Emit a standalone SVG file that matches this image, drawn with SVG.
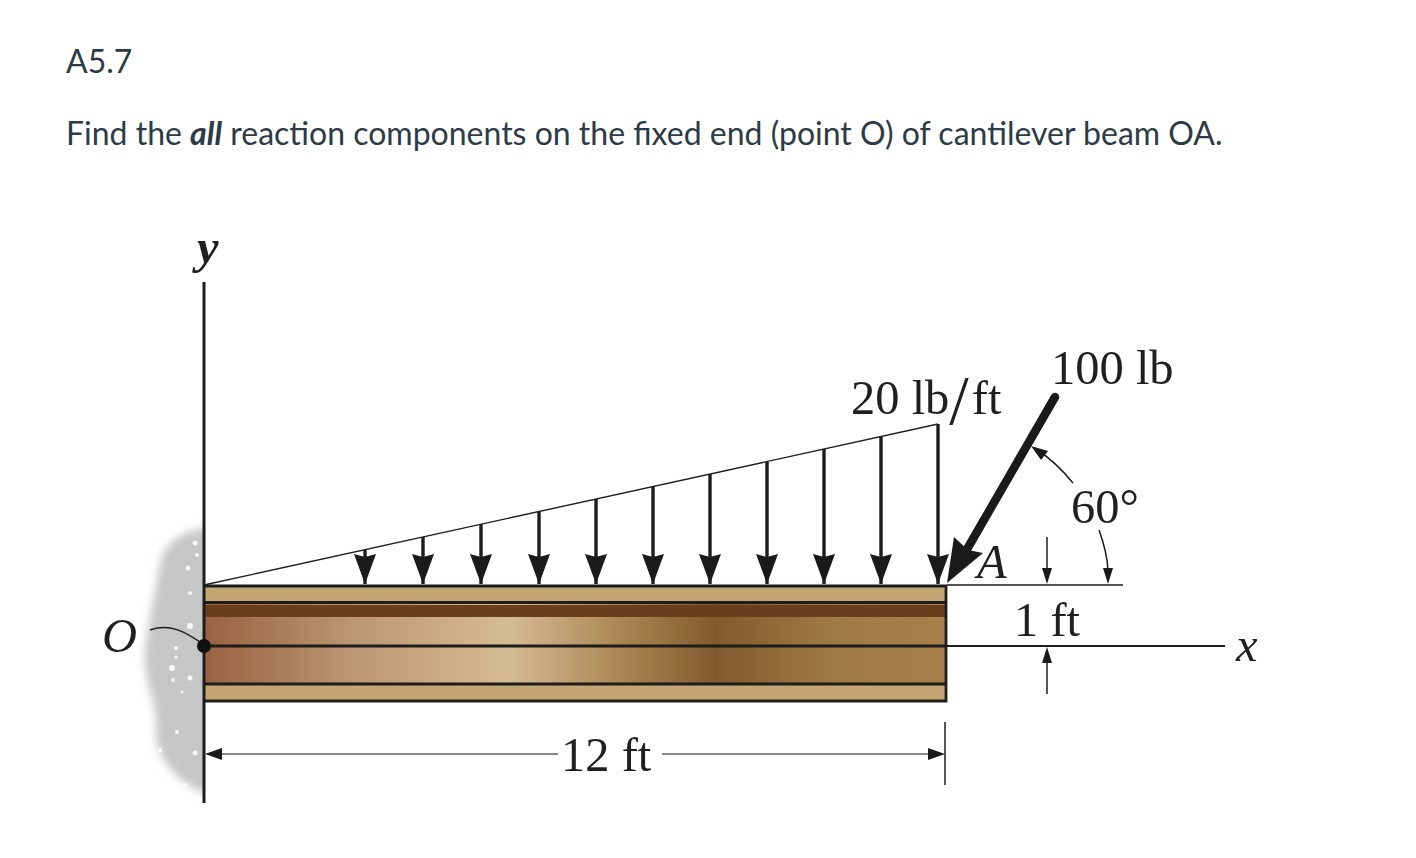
<svg xmlns="http://www.w3.org/2000/svg" width="1416" height="858" viewBox="0 0 1416 858">
<style>
.h{font-family:Lato,"Liberation Sans",sans-serif;font-size:32px;fill:#2d3b45}
.l{font-family:"Liberation Serif",serif;font-size:48.500px;fill:#1f1f1f}
.i{font-style:italic}
.ln{stroke:#1d1d1d;fill:none}
.load{stroke:#1d1d1d;stroke-width:3.400;fill:none;marker-end:url(#big)}
</style>
<defs>
<marker id="big" markerUnits="userSpaceOnUse" markerWidth="32" markerHeight="24" refX="30" refY="12" orient="auto" viewBox="0 0 32 24"><path d="M0 1L30 12L0 23L3 12Z" fill="#1a1a1a"/></marker>
<linearGradient id="wood" gradientUnits="userSpaceOnUse" x1="204" y1="0" x2="946" y2="0">
<stop offset="0" stop-color="#9a6241"/><stop offset=".2" stop-color="#bb9672"/><stop offset=".41" stop-color="#d5bc92"/><stop offset=".55" stop-color="#ae8a58"/><stop offset=".69" stop-color="#835a2c"/><stop offset=".85" stop-color="#a07a45"/><stop offset="1" stop-color="#a87f4b"/>
</linearGradient>
<filter id="soft" x="-20%" y="-5%" width="140%" height="110%"><feGaussianBlur stdDeviation="4"/></filter>
<clipPath id="wallclip"><rect x="0" y="500" width="204" height="320"/></clipPath>
</defs>
<text class="h" x="66" y="73">A5.7</text>
<text class="h" x="66" y="145">Find the <tspan font-weight="700" font-style="italic">all</tspan> reaction components on the fixed end (point O) of cantilever beam OA.</text>
<g id="wall">
<g clip-path="url(#wallclip)"><path d="M230 526C195 526 168 535 161 560C156 585 150 615 145 650C142 680 158 700 156 730C155 760 180 790 230 802Z" fill="#c6c6c6" filter="url(#soft)"/></g>
<g fill="#fff" opacity=".85"><circle cx="195" cy="543" r="2.500"/><circle cx="197" cy="555" r="2"/><circle cx="188" cy="568" r="2.500"/><circle cx="190" cy="593" r="2"/><circle cx="190" cy="626" r="3"/><circle cx="172" cy="668" r="3"/><circle cx="173" cy="680" r="2"/><circle cx="190" cy="678" r="2.500"/><circle cx="176" cy="648" r="2"/><circle cx="176" cy="657" r="1.500"/><circle cx="177" cy="732" r="2"/><circle cx="195" cy="753" r="2.500"/><circle cx="160" cy="750" r="2"/><circle cx="185" cy="785" r="2"/><circle cx="182" cy="692" r="1.500"/></g>
</g>
<g id="beam">
<rect x="204" y="586" width="742" height="115" fill="url(#wood)"/>
<rect x="205" y="587" width="740" height="15" fill="#c4a672"/>
<rect x="205" y="605" width="740" height="12" fill="#6b3f1e"/>
<rect x="205" y="685" width="740" height="15" fill="#c4a672"/>
<path class="ln" stroke-width="2.800" d="M204 586H946V701H204M204 602.500H946M204 646H946M204 684H946"/>
</g>
<g id="connectors">
<path class="ln" stroke-width="3" d="M204 282V803"/>
<path class="ln" stroke-width="1.400" d="M204 585L938 424"/>
<path class="ln" stroke-width="2" d="M946 646H1225"/>
<path class="ln" stroke-width="1.600" d="M947 585H1123"/>
<path class="load" d="M365 550V584"/><path class="load" d="M423 537V584"/><path class="load" d="M481 524V584"/><path class="load" d="M539 512V584"/><path class="load" d="M596 499V584"/><path class="load" d="M653 487V584"/><path class="load" d="M710 474V584"/><path class="load" d="M767 462V584"/><path class="load" d="M824 449V584"/><path class="load" d="M881 437V584"/><path class="load" d="M938 424V584"/>
<path d="M1055 397L966 551" stroke="#1a1a1a" stroke-width="8.500" stroke-linecap="round" fill="none"/>
<path d="M947 583L954 537L968 550L983 553Z" fill="#1a1a1a"/>
<path class="ln" stroke-width="1.500" d="M1073 483Q1056 462 1036 449"/><path d="M1031 446L1048 451L1041 460Z" fill="#1a1a1a"/>
<path class="ln" stroke-width="1.500" d="M1099 530Q1107 552 1108 570"/><path d="M1108 584L1103 568H1113Z" fill="#1a1a1a"/>
<path class="ln" stroke-width="1.500" d="M1047 537V570"/><path d="M1047 584L1042 568H1052Z" fill="#1a1a1a"/>
<path class="ln" stroke-width="1.500" d="M1047 694V660"/><path d="M1047 647L1042 663H1052Z" fill="#1a1a1a"/>
<path stroke="#888" stroke-width="2" fill="none" d="M220 754H558M662 754H930"/>
<path d="M205 754L222 748V760Z" fill="#1a1a1a"/><path d="M945 754L928 748V760Z" fill="#1a1a1a"/>
<path class="ln" stroke-width="1.500" d="M945 722V785"/>
<path class="ln" stroke-width="1.500" d="M150 630C170 623 185 632 200 642"/>
</g>
<g id="point-O"><circle cx="204" cy="646" r="7" fill="#111"/><text class="l i" x="102" y="652" font-size="52">O</text></g>
<g id="labels">
<text class="l i" x="197" y="263" font-weight="700" font-size="46">y</text>
<text class="l i" x="1236" y="661" font-size="54">x</text>
<text class="l" x="851" y="414">20 lb<tspan font-size="70" dx="0" dy="10">/</tspan><tspan dy="-10" dx="3">ft</tspan></text>
<text class="l" x="1051" y="384">100 lb</text>
<text class="l" x="1071" y="523">60°</text>
<text class="l i" x="977" y="578" font-size="52">A</text>
<text class="l" x="1014" y="636">1 ft</text>
<text class="l" x="561" y="771">12 ft</text>
</g>
</svg>
